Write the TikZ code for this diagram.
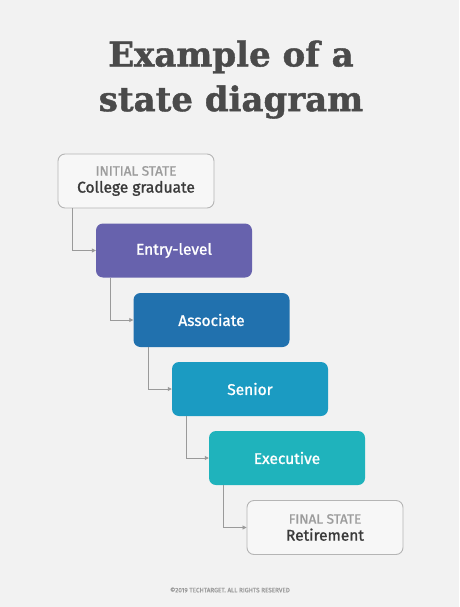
\documentclass[tikz,border=0pt]{standalone}
\usepackage{fontspec}
\newfontfamily\boxfont{Fira Sans}[FakeBold=1.3]
\newfontfamily\titlefont{DejaVu Serif}[BoldFeatures={FakeBold=1.2}]
\usetikzlibrary{arrows.meta}
\definecolor{bgc}{HTML}{F2F2F2}
\definecolor{cEntry}{HTML}{6762AD}
\definecolor{cAssoc}{HTML}{2171AE}
\definecolor{cSenior}{HTML}{1B9BC2}
\definecolor{cExec}{HTML}{1FB3BC}
\definecolor{lineg}{HTML}{9A9A9A}
\definecolor{borderg}{HTML}{B5B5B5}
\definecolor{labelg}{HTML}{9C9C9C}
\definecolor{darkt}{HTML}{3A3A3A}
\definecolor{titlec}{HTML}{4A4A4A}
\tikzset{
  statebox/.style={rounded corners=7pt, minimum width=156pt, minimum height=54pt, inner sep=0pt, text=white, font=\boxfont\fontsize{15.5}{17}\selectfont, align=center},
  endbox/.style={statebox, draw=borderg, line width=0.9pt, fill=bgc!60!white, text=darkt},
  conn/.style={draw=lineg, line width=0.8pt, -{Triangle[length=4pt,width=4pt]}},
  titletext/.style={font=\titlefont\bfseries\fontsize{34}{40}\selectfont, text=titlec},
}
\begin{document}
\begin{tikzpicture}[x=1pt,y=-1pt]
\fill[bgc] (0,0) rectangle (459,607);
\useasboundingbox (0,0) rectangle (459,607);
\node[titletext] (t1) at (231,57) {Example of a};
\node[titletext] (t2) at (231,102) {state diagram};
\node[endbox] (b1) at (136,181) {{\color{labelg}\fontsize{13.5}{15}\selectfont INITIAL STATE}\\[0pt]College graduate};
\node[statebox, fill=cEntry] (b2) at (174,250.5) {Entry-level};
\node[statebox, fill=cAssoc] (b3) at (211.5,320) {Associate};
\node[statebox, fill=cSenior] (b4) at (250,389) {Senior};
\node[statebox, fill=cExec] (b5) at (287,458) {Executive};
\node[endbox] (b6) at (325,527.5) {{\color{labelg}\fontsize{13.5}{15}\selectfont FINAL STATE}\\[0pt]Retirement};
\draw[conn] ([xshift=15pt]b1.south west) |- (b2.west);
\draw[conn] ([xshift=15pt]b2.south west) |- (b3.west);
\draw[conn] ([xshift=15pt]b3.south west) |- (b4.west);
\draw[conn] ([xshift=15pt]b4.south west) |- (b5.west);
\draw[conn] ([xshift=15pt]b5.south west) |- (b6.west);
\node[font=\boxfont\fontsize{6.3}{7}\selectfont, text=labelg] (foot) at (230,590) {©2019 TECHTARGET. ALL RIGHTS RESERVED};
\end{tikzpicture}
\end{document}
